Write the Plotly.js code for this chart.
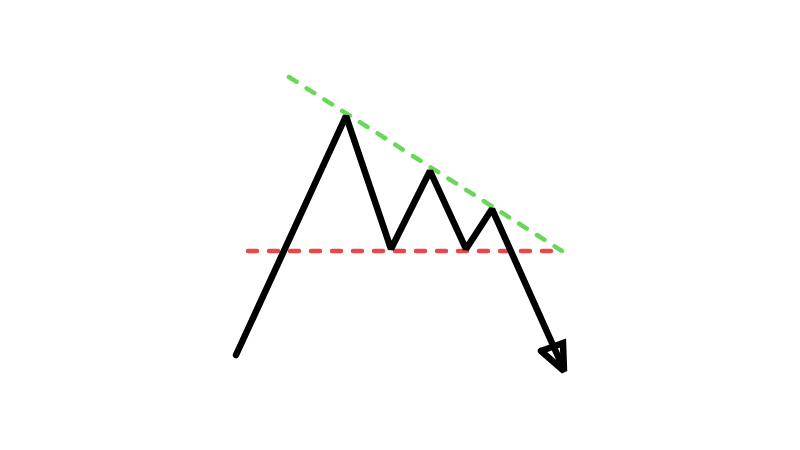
<!DOCTYPE html>
<html>
<head>
<meta charset="utf-8">
<script src="https://cdn.plot.ly/plotly-3.0.1.min.js"></script>
<style>
html,body{margin:0;padding:0;background:#fff;}
#chart{width:800px;height:450px;}
#chart .js-line{stroke-linecap:round;}
</style>
</head>
<body>
<div id="chart"></div>
<script>
// Price path (x = time, y = price, screen-like units)
var priceX = [236, 346, 391, 430, 466, 492, 561];
var priceY = [355, 116, 249, 171, 249, 209, 363];
// Arrowhead outline
var arrowX = [541, 563, 564, 541];
var arrowY = [351, 343, 371, 351];
// Descending resistance (green)
var resistX = [289, 562];
var resistY = [77, 251];
// Horizontal support (red)
var supportX = [248, 562];
var supportY = [251, 251];

var traces = [
  {x: supportX, y: supportY, mode: 'lines', line: {color: '#e8484a', width: 4.5, dash: '9px,12px'}, hoverinfo: 'skip'},
  {x: resistX, y: resistY, mode: 'lines', line: {color: '#6ad65a', width: 4.5, dash: '9px,12px'}, hoverinfo: 'skip'},
  {x: priceX, y: priceY, mode: 'lines', line: {color: '#000000', width: 6.5}, hoverinfo: 'skip'},
  {x: arrowX, y: arrowY, mode: 'lines', line: {color: '#000000', width: 6.5}, hoverinfo: 'skip'}
];

var layout = {
  width: 800, height: 450,
  margin: {l: 0, r: 0, t: 0, b: 0},
  paper_bgcolor: '#ffffff', plot_bgcolor: '#ffffff',
  showlegend: false,
  xaxis: {range: [0, 800], visible: false, fixedrange: true},
  yaxis: {range: [450, 0], visible: false, fixedrange: true}
};

Plotly.newPlot('chart', traces, layout, {displayModeBar: false, staticPlot: true});
</script>
</body>
</html>
